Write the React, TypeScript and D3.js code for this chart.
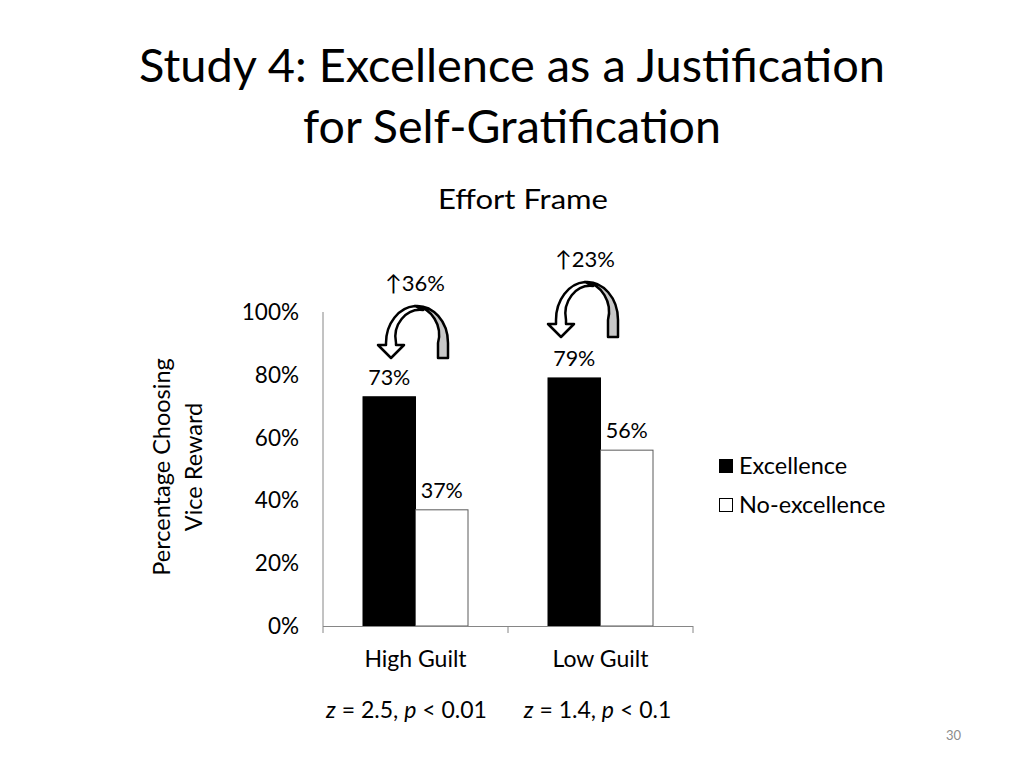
import React, { useEffect, useRef } from 'react';
import * as d3 from 'd3';

const categories = ['High Guilt', 'Low Guilt'];
const seriesNames = ['Excellence', 'No-excellence'];
const excellence = [0.73, 0.79];
const noExcellence = [0.37, 0.56];
const yTicks = [0, 0.2, 0.4, 0.6, 0.8, 1.0];
const increases = ['36%', '23%'];
const zStats = [
  { z: '2.5', p: '0.01' },
  { z: '1.4', p: '0.1' },
];

const FONT = 'Lato, "Open Sans", sans-serif';

const App: React.FC = () => {
  const svgRef = useRef<SVGSVGElement>(null);

  useEffect(() => {
    if (!svgRef.current) return;
    const svg = d3.select(svgRef.current);
    svg.selectAll('*').remove();

    const left = 323;
    const right = 693;
    const top = 312;
    const bottom = 626;

    const x = d3.scaleBand<string>().domain(categories).range([left, right]);
    const xs = d3.scaleBand<string>().domain(seriesNames).range([0, 105]);
    const y = d3.scaleLinear().domain([0, 1]).range([bottom, top]);
    const fmt = d3.format('.0%');

    // titles
    svg.append('text')
      .attr('x', 512).attr('y', 82)
      .attr('text-anchor', 'middle')
      .attr('textLength', 746).attr('lengthAdjust', 'spacingAndGlyphs')
      .style('font-family', FONT).style('font-size', '46px').style('fill', '#000')
      .text('Study 4: Excellence as a Justification');
    svg.append('text')
      .attr('x', 512).attr('y', 143)
      .attr('text-anchor', 'middle')
      .attr('textLength', 418).attr('lengthAdjust', 'spacingAndGlyphs')
      .style('font-family', FONT).style('font-size', '46px').style('fill', '#000')
      .text('for Self-Gratification');
    svg.append('text')
      .attr('x', 523).attr('y', 209)
      .attr('text-anchor', 'middle')
      .attr('textLength', 170).attr('lengthAdjust', 'spacingAndGlyphs')
      .style('font-family', FONT).style('font-size', '27px')
      .text('Effort Frame');

    const g = svg.append('g');

    // y axis line (no ticks)
    g.append('line')
      .attr('x1', left).attr('x2', left)
      .attr('y1', y(1)).attr('y2', y(0))
      .attr('stroke', '#868686').attr('stroke-width', 1);

    g.selectAll('.ytick')
      .data(yTicks)
      .enter()
      .append('text')
      .attr('x', 299)
      .attr('y', d => y(d) + 8)
      .attr('text-anchor', 'end')
      .style('font-family', FONT).style('font-size', '22.5px')
      .text(d => fmt(d));

    // bars
    const groups = categories.map((c, i) => ({ c, vals: [excellence[i], noExcellence[i]] }));
    const gg = g.selectAll('.grp')
      .data(groups)
      .enter()
      .append('g')
      .attr('transform', d => `translate(${(x(d.c) as number) + (x.bandwidth() - 105) / 2},0)`);

    gg.selectAll('rect')
      .data(d => d.vals.map((v, k) => ({ v, s: seriesNames[k] })))
      .enter()
      .append('rect')
      .attr('x', d => xs(d.s) as number)
      .attr('width', xs.bandwidth())
      .attr('y', d => y(d.v))
      .attr('height', d => y(0) - y(d.v))
      .attr('fill', d => (d.s === 'Excellence' ? '#000' : '#fff'))
      .attr('stroke', d => (d.s === 'Excellence' ? '#000' : '#5a5a5a'))
      .attr('stroke-width', 1);

    gg.selectAll('.vlab')
      .data(d => d.vals.map((v, k) => ({ v, s: seriesNames[k] })))
      .enter()
      .append('text')
      .attr('x', d => (xs(d.s) as number) + xs.bandwidth() / 2)
      .attr('y', d => y(d.v) - 12)
      .attr('text-anchor', 'middle')
      .style('font-family', FONT).style('font-size', '21.5px')
      .text(d => fmt(d.v));

    // x axis
    g.append('line')
      .attr('x1', left).attr('x2', right)
      .attr('y1', bottom + 0.5).attr('y2', bottom + 0.5)
      .attr('stroke', '#868686');
    const xTickPos = [left, ...categories.slice(1).map(c => x(c) as number), right];
    g.selectAll('.xtick')
      .data(xTickPos)
      .enter()
      .append('line')
      .attr('x1', d => d).attr('x2', d => d)
      .attr('y1', bottom).attr('y2', bottom + 7)
      .attr('stroke', '#868686');

    g.selectAll('.xlab')
      .data(categories)
      .enter()
      .append('text')
      .attr('x', d => (x(d) as number) + x.bandwidth() / 2)
      .attr('y', 667)
      .attr('text-anchor', 'middle')
      .style('font-family', FONT).style('font-size', '23px')
      .text(d => d);

    // z / p stats
    const zt = g.selectAll('.zlab')
      .data(zStats)
      .enter()
      .append('text')
      .attr('x', (d, i) => (x(categories[i]) as number) + x.bandwidth() / 2 - 9 + i * 6)
      .attr('y', 718)
      .attr('text-anchor', 'middle')
      .style('font-family', FONT).style('font-size', '23px');
    zt.append('tspan').style('font-style', 'italic').text('z');
    zt.append('tspan').text(d => ` = ${d.z}, `);
    zt.append('tspan').style('font-style', 'italic').text('p');
    zt.append('tspan').text(d => ` < ${d.p}`);

    // y axis title
    const yt = g.append('text')
      .attr('transform', 'translate(170,467) rotate(-90)')
      .attr('text-anchor', 'middle')
      .style('font-family', FONT).style('font-size', '23.5px');
    yt.append('tspan').attr('x', 0).attr('y', 0).text('Percentage Choosing');
    yt.append('tspan').attr('x', 0).attr('y', 32).text('Vice Reward');

    // legend
    const leg = g.selectAll('.leg')
      .data(seriesNames)
      .enter()
      .append('g')
      .attr('transform', (d, i) => `translate(719,${466 + i * 39})`);
    leg.append('rect')
      .attr('x', 0.5).attr('y', -6.5)
      .attr('width', 13).attr('height', 13)
      .attr('fill', d => (d === 'Excellence' ? '#000' : '#fff'))
      .attr('stroke', '#000').attr('stroke-width', 1);
    leg.append('text')
      .attr('x', 20).attr('y', 8)
      .style('font-family', FONT).style('font-size', '23.5px')
      .text(d => d);

    // U-turn arrows showing the increase
    const arrowSpec = [
      { cx: 417, cy: 343, rx: 31, ry: 37, bottomTail: 358, bottomHead: 358 },
      { cx: 587, cy: 320, rx: 31, ry: 38, bottomTail: 337, bottomHead: 337 },
    ];
    const band = 10;
    arrowSpec.forEach((a, i) => {
      const ro = a.rx, ri = a.rx - band;
      const ryo = a.ry, ryi = a.ry - band;
      const headY = a.bottomHead - 13;
      const lc = a.cx - (ro + ri) / 2;
      // gray back (right half)
      const dGray = `M${a.cx + ro},${a.bottomTail} L${a.cx + ro},${a.cy} ` +
        `A${ro},${ryo} 0 0 0 ${a.cx - 2},${a.cy - ryo} ` +
        `A${ri + 6},${ryi + 2} 0 0 1 ${a.cx + ri},${a.cy} ` +
        `L${a.cx + ri},${a.bottomTail} Z`;
      svg.append('path').attr('d', dGray)
        .attr('fill', '#c8c8c8').attr('stroke', '#000').attr('stroke-width', 2.5)
        .attr('stroke-linejoin', 'round');
      // white front with arrowhead
      const dWhite = `M${a.cx - 2},${a.cy - ryo} ` +
        `A${ro},${ryo} 0 0 0 ${a.cx - ro},${a.cy} ` +
        `L${a.cx - ro},${headY} L${lc - 13},${headY} L${lc},${a.bottomHead} ` +
        `L${lc + 13},${headY} L${a.cx - ri},${headY} L${a.cx - ri},${a.cy} ` +
        `A${ri + 4},${ryi} 0 0 1 ${a.cx + 6},${a.cy - ryo + 4} Z`;
      svg.append('path').attr('d', dWhite)
        .attr('fill', '#fff').attr('stroke', '#000').attr('stroke-width', 2.5)
        .attr('stroke-linejoin', 'round');
      svg.append('text')
        .attr('x', a.cx - 2).attr('y', a.cy - ryo - 15)
        .attr('text-anchor', 'middle')
        .style('font-family', FONT).style('font-size', '22px')
        .text(`\u2191${increases[i]}`);
    });

    // slide number
    svg.append('text')
      .attr('x', 961).attr('y', 740)
      .attr('text-anchor', 'end')
      .style('font-family', FONT).style('font-size', '13px').style('fill', '#8c8c8c')
      .text('30');
  }, []);

  return (
    <svg
      ref={svgRef}
      width={1024}
      height={768}
      style={{ position: 'absolute', left: 0, top: 0, background: '#fff' }}
    />
  );
};

export default App;
